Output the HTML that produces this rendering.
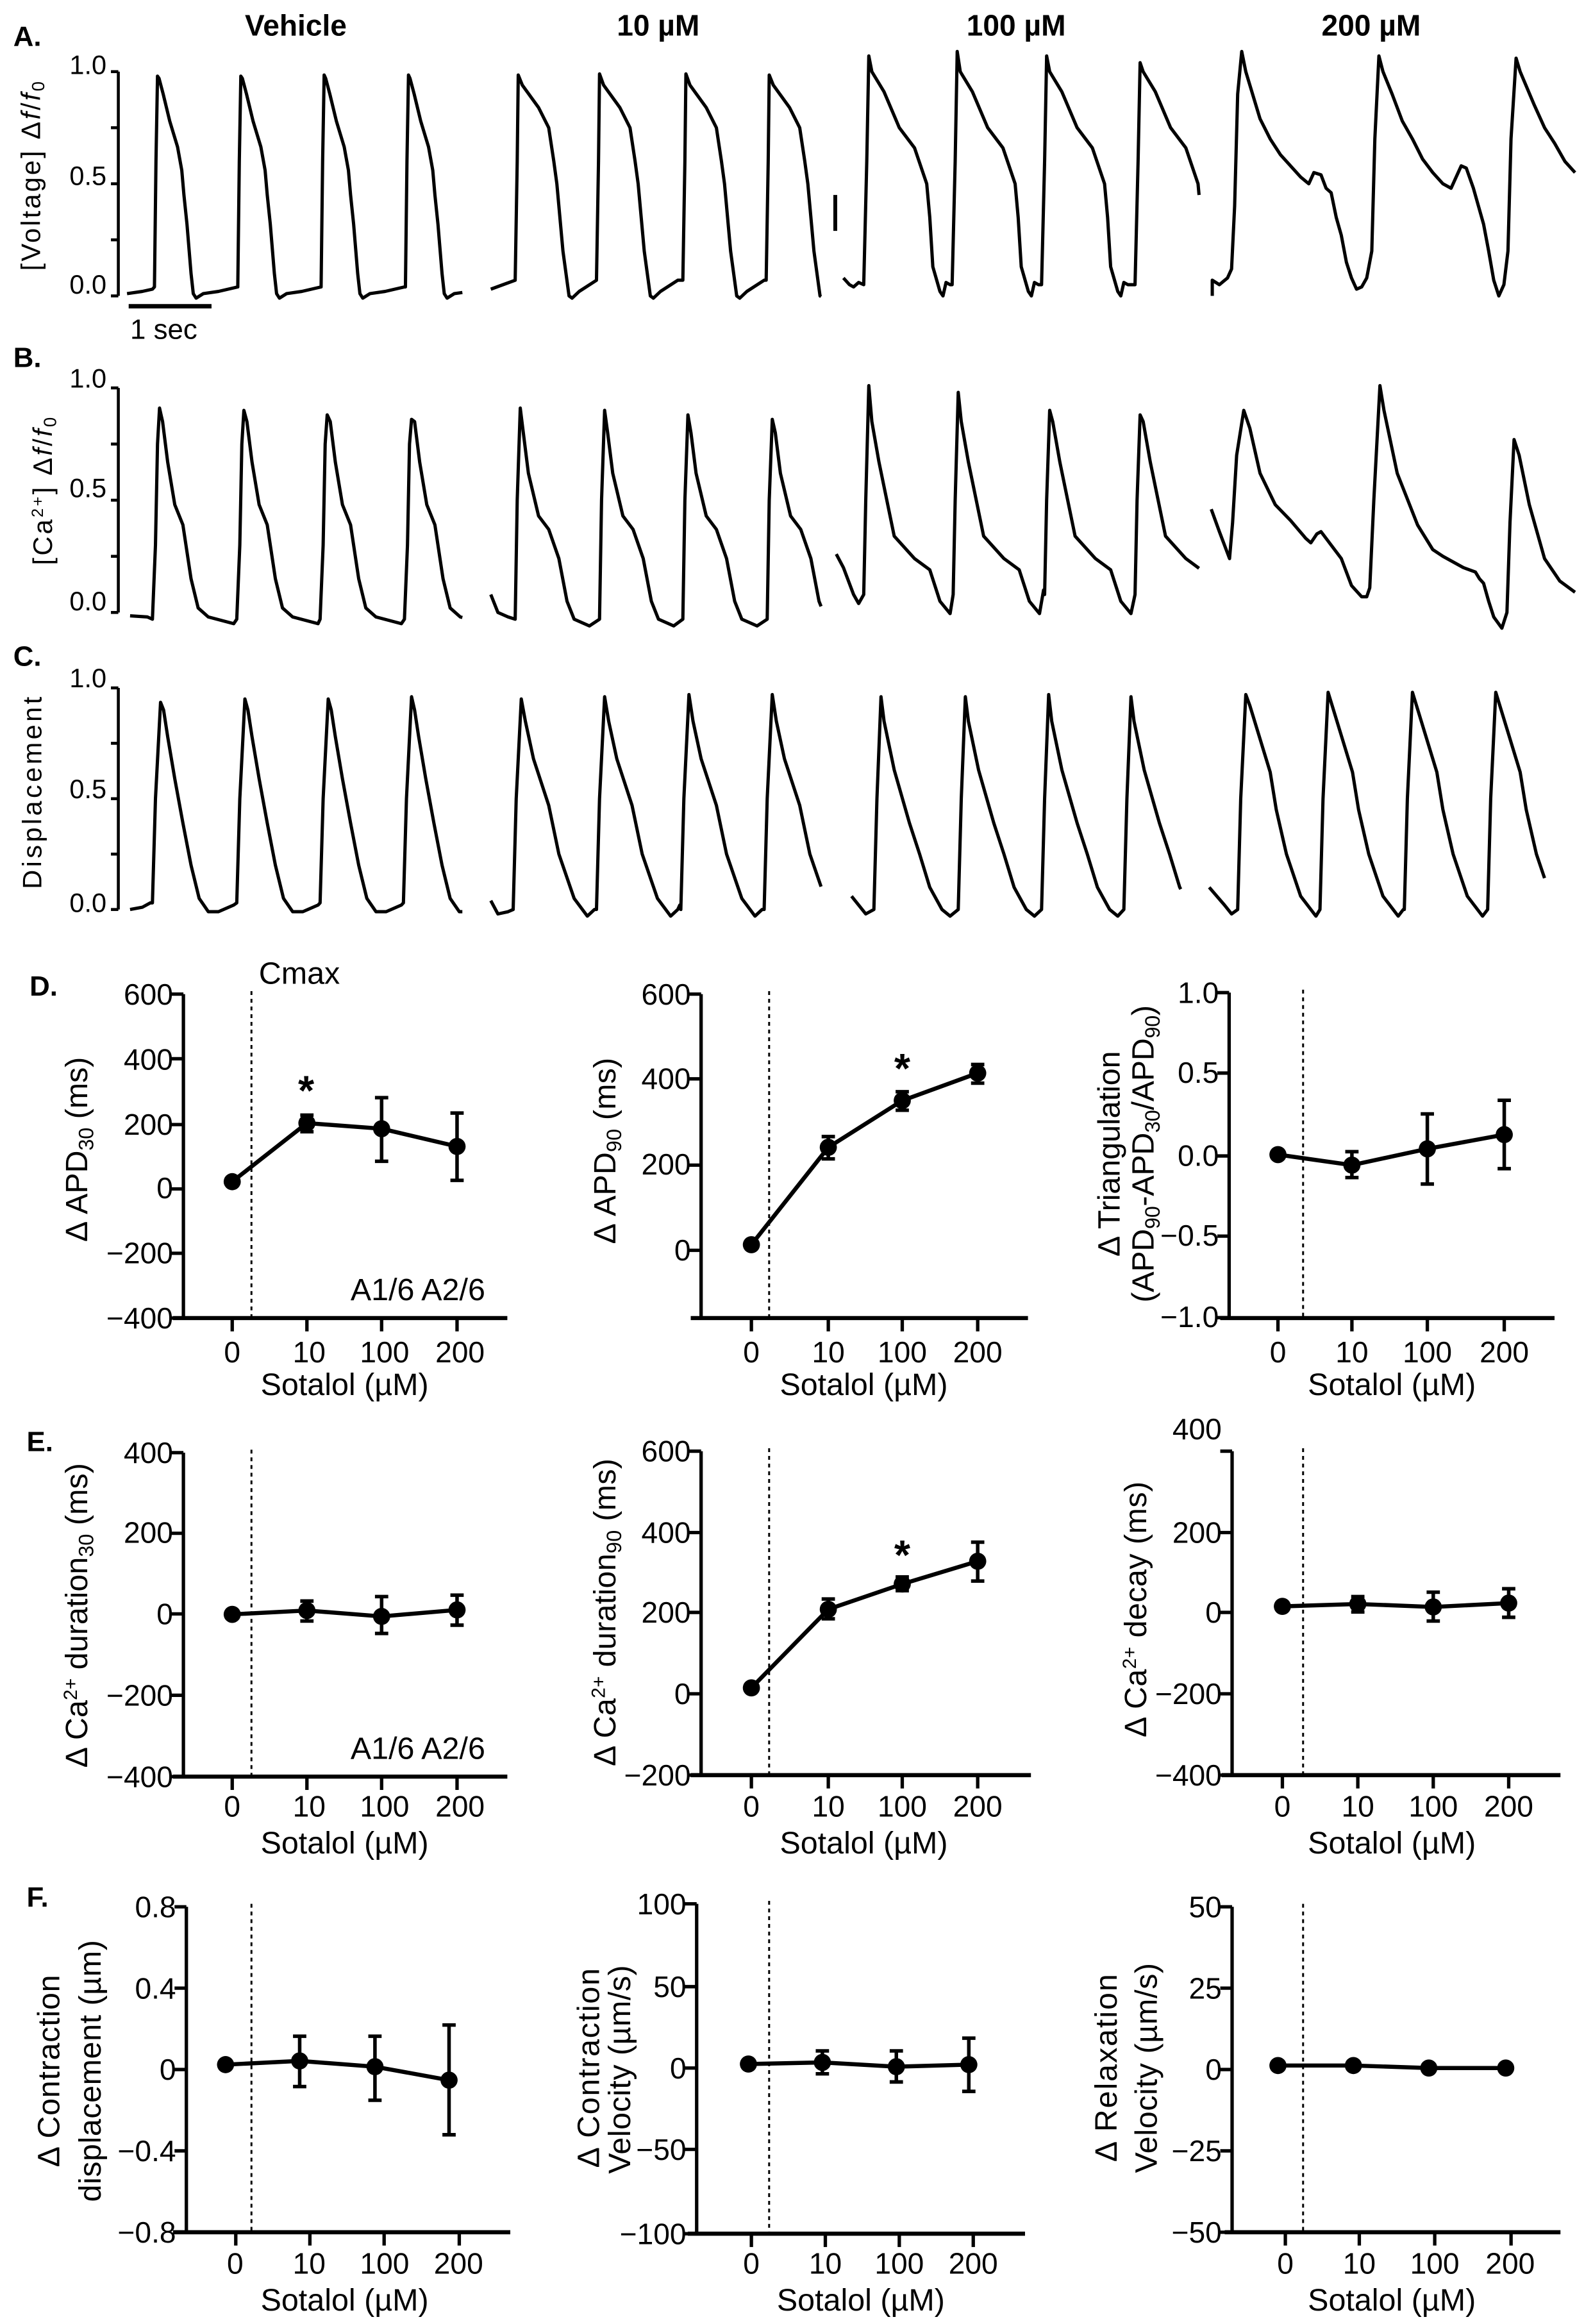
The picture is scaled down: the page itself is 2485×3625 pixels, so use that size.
<!DOCTYPE html>
<html><head><meta charset="utf-8"><style>
html,body{margin:0;padding:0;background:#fff;}
svg{display:block;}
text{font-family:"Liberation Sans",Arial,sans-serif;fill:#000;}
</style></head><body>
<svg id="s" xmlns="http://www.w3.org/2000/svg" width="2485" height="3625" viewBox="0 0 1077 1571">
<rect width="1077" height="1571" fill="#fff"/>
<g id="g"></g>
<!-- Panel labels -->
<g font-weight="bold" font-size="19">
<text x="9" y="31">A.</text>
<text x="9" y="248">B.</text>
<text x="9" y="450">C.</text>
<text x="20" y="673">D.</text>
<text x="18" y="981">E.</text>
<text x="18" y="1289">F.</text>
</g>
<g font-weight="bold" font-size="20" text-anchor="middle">
<text x="200" y="24">Vehicle</text>
<text x="445" y="24">10 µM</text>
<text x="687" y="24">100 µM</text>
<text x="927" y="24">200 µM</text>
</g>
<!-- trace axis labels -->
<g font-size="18" text-anchor="end">
<text x="72" y="50">1.0</text><text x="72" y="125">0.5</text><text x="72" y="198.5">0.0</text>
<text x="72" y="262">1.0</text><text x="72" y="336">0.5</text><text x="72" y="412.5">0.0</text>
<text x="72" y="464.5">1.0</text><text x="72" y="539.5">0.5</text><text x="72" y="616.5">0.0</text>
</g>
<g font-size="18" text-anchor="middle">
<text transform="translate(27,119) rotate(-90)" textLength="128" lengthAdjust="spacing">[Voltage] Δ<tspan font-style="italic">f</tspan>/<tspan font-style="italic">f</tspan><tspan font-size="12" dy="3">0</tspan></text>
<text transform="translate(35,332) rotate(-90)" textLength="100" lengthAdjust="spacing">[Ca<tspan font-size="11" dy="-6">2+</tspan><tspan dy="6">] Δ</tspan><tspan font-style="italic">f</tspan>/<tspan font-style="italic">f</tspan><tspan font-size="12" dy="3">0</tspan></text>
<text transform="translate(28,536) rotate(-90)" textLength="130" lengthAdjust="spacing">Displacement</text>
</g>
<text x="88" y="229" font-size="19">1 sec</text>

<!-- plot text -->
<g font-size="20" text-anchor="end">
<!-- D1 -->
<text x="117" y="679">600</text><text x="117" y="723">400</text><text x="117" y="767">200</text><text x="117" y="810">0</text><text x="117" y="854">−200</text><text x="117" y="898">−400</text>
<!-- D2 -->
<text x="467" y="679">600</text><text x="467" y="736">400</text><text x="467" y="794">200</text><text x="467" y="852">0</text>
<!-- D3 -->
<text x="824" y="678">1.0</text><text x="824" y="732">0.5</text><text x="824" y="788">0.0</text><text x="824" y="842">−0.5</text><text x="824" y="897">−1.0</text>
<!-- E1 -->
<text x="117" y="989">400</text><text x="117" y="1043">200</text><text x="117" y="1098">0</text><text x="117" y="1153">−200</text><text x="117" y="1208">−400</text>
<!-- E2 -->
<text x="467" y="988">600</text><text x="467" y="1043">400</text><text x="467" y="1097">200</text><text x="467" y="1152">0</text><text x="467" y="1207">−200</text>
<!-- E3 -->
<text x="826" y="973">400</text><text x="826" y="1043">200</text><text x="826" y="1097">0</text><text x="826" y="1152">−200</text><text x="826" y="1207">−400</text>
<!-- F1 -->
<text x="119" y="1296">0.8</text><text x="119" y="1351">0.4</text><text x="119" y="1406">0</text><text x="119" y="1461">−0.4</text><text x="119" y="1516">−0.8</text>
<!-- F2 -->
<text x="464" y="1294">100</text><text x="464" y="1350">50</text><text x="464" y="1405">0</text><text x="464" y="1460">−50</text><text x="464" y="1517">−100</text>
<!-- F3 -->
<text x="826" y="1296">50</text><text x="826" y="1351">25</text><text x="826" y="1406">0</text><text x="826" y="1461">−25</text><text x="826" y="1516">−50</text>
</g>
<g font-size="20" text-anchor="middle">
<text x="157" y="921">0</text><text x="209" y="921">10</text><text x="260" y="921">100</text><text x="311" y="921">200</text>
<text x="508" y="921">0</text><text x="560" y="921">10</text><text x="610" y="921">100</text><text x="661" y="921">200</text>
<text x="864" y="921">0</text><text x="914" y="921">10</text><text x="965" y="921">100</text><text x="1017" y="921">200</text>
<text x="157" y="1228">0</text><text x="209" y="1228">10</text><text x="260" y="1228">100</text><text x="311" y="1228">200</text>
<text x="508" y="1228">0</text><text x="560" y="1228">10</text><text x="610" y="1228">100</text><text x="661" y="1228">200</text>
<text x="867" y="1228">0</text><text x="918" y="1228">10</text><text x="969" y="1228">100</text><text x="1020" y="1228">200</text>
<text x="159" y="1537">0</text><text x="209" y="1537">10</text><text x="260" y="1537">100</text><text x="310" y="1537">200</text>
<text x="508" y="1537">0</text><text x="558" y="1537">10</text><text x="608" y="1537">100</text><text x="658" y="1537">200</text>
<text x="869" y="1537">0</text><text x="919" y="1537">10</text><text x="970" y="1537">100</text><text x="1021" y="1537">200</text>
</g>
<g font-size="21" text-anchor="middle">
<text x="233" y="943">Sotalol (µM)</text><text x="584" y="943">Sotalol (µM)</text><text x="941" y="943">Sotalol (µM)</text>
<text x="233" y="1253">Sotalol (µM)</text><text x="584" y="1253">Sotalol (µM)</text><text x="941" y="1253">Sotalol (µM)</text>
<text x="233" y="1562">Sotalol (µM)</text><text x="582" y="1562">Sotalol (µM)</text><text x="941" y="1562">Sotalol (µM)</text>
</g>
<g font-size="21" text-anchor="middle">
<text transform="translate(59,777) rotate(-90)" textLength="125" lengthAdjust="spacing">Δ APD<tspan font-size="14" dy="4">30</tspan><tspan dy="-4"> (ms)</tspan></text>
<text transform="translate(416,778) rotate(-90)" textLength="126" lengthAdjust="spacing">Δ APD<tspan font-size="14" dy="4">90</tspan><tspan dy="-4"> (ms)</tspan></text>
<text transform="translate(757,780) rotate(-90)" textLength="139" lengthAdjust="spacing">Δ Triangulation</text>
<text transform="translate(780,780) rotate(-90)" textLength="201" lengthAdjust="spacing">(APD<tspan font-size="14" dy="4">90</tspan><tspan dy="-4">-APD</tspan><tspan font-size="14" dy="4">30</tspan><tspan dy="-4">/APD</tspan><tspan font-size="14" dy="4">90</tspan><tspan dy="-4">)</tspan></text>
<text transform="translate(59,1092) rotate(-90)" textLength="206" lengthAdjust="spacing">Δ Ca<tspan font-size="13" dy="-7">2+</tspan><tspan dy="7"> duration</tspan><tspan font-size="14" dy="4">30</tspan><tspan dy="-4"> (ms)</tspan></text>
<text transform="translate(416,1090) rotate(-90)" textLength="208" lengthAdjust="spacing">Δ Ca<tspan font-size="13" dy="-7">2+</tspan><tspan dy="7"> duration</tspan><tspan font-size="14" dy="4">90</tspan><tspan dy="-4"> (ms)</tspan></text>
<text transform="translate(775,1088) rotate(-90)" textLength="173" lengthAdjust="spacing">Δ Ca<tspan font-size="13" dy="-7">2+</tspan><tspan dy="7"> decay (ms)</tspan></text>
<text transform="translate(40,1400) rotate(-90)" textLength="130" lengthAdjust="spacing">Δ Contraction</text>
<text transform="translate(68,1400) rotate(-90)" textLength="177" lengthAdjust="spacing">displacement (µm)</text>
<text transform="translate(405,1398) rotate(-90)" textLength="135" lengthAdjust="spacing">Δ Contraction</text>
<text transform="translate(426,1399) rotate(-90)" textLength="141" lengthAdjust="spacing">Velocity (µm/s)</text>
<text transform="translate(755,1398) rotate(-90)" textLength="127" lengthAdjust="spacing">Δ Relaxation</text>
<text transform="translate(782,1398) rotate(-90)" textLength="142" lengthAdjust="spacing">Velocity (µm/s)</text>
</g>
<g font-size="21">
<text x="175" y="665">Cmax</text>
<text x="237" y="879">A1/6 A2/6</text>
<text x="237" y="1189">A1/6 A2/6</text>
</g>
<g font-size="28" text-anchor="middle" font-weight="bold">
<text x="207" y="747">*</text>
<text x="610" y="732">*</text>
<text x="610" y="1061">*</text>
</g>
</svg>
<script>
(function(){
var NS="http://www.w3.org/2000/svg", G=document.getElementById("g");
function el(t,a){var e=document.createElementNS(NS,t);for(var k in a)e.setAttribute(k,a[k]);G.appendChild(e);return e;}
var rows={A:[200,48.4],B:[414,262.2],C:[614.8,465]};
function build(start,peaks,pks,tpl,endX){
  var pts=start.slice();
  for(var i=0;i<peaks.length;i++){
    var beat=tpl.map(function(q){return [peaks[i]+q[0], q[1]===null?pks[i]:q[1]];});
    while(pts.length&&pts[pts.length-1][0]>=beat[0][0])pts.pop();
    pts=pts.concat(beat);
  }
  var out=[];
  for(var j=0;j<pts.length;j++){
    if(pts[j][0]<=endX)out.push(pts[j]);
    else{var a=pts[j-1],b=pts[j];var t=(endX-a[0])/(b[0]-a[0]);out.push([endX,a[1]+t*(b[1]-a[1])]);break;}
  }
  return out;
}
function draw(pts,row){
  var r=rows[row],d="";
  pts.forEach(function(p,i){var x=p[0]*0.687,y=r[0]-p[1]*(r[0]-r[1]);d+=(i?"L":"M")+x.toFixed(2)+","+y.toFixed(2);});
  el("path",{d:d,fill:"none",stroke:"#000","stroke-width":"2.2","stroke-linejoin":"round"});
}
// Row A
var tA1=[[-3,0.04],[-1.5,0.6],[0,null],[1.5,0.97],[5.6,0.9],[12,0.78],[19.7,0.665],[23.9,0.56],[26,0.45],[29,0.32],[33,0.1],[35.2,0.01],[38,-0.01],[45,0.01],[60,0.02],[79,0.04]];
draw(build([[125,0.01],[140,0.02],[150,0.03]],[155,237,319,402],[0.98,0.98,0.985,0.985],tA1,455),"A");
var tA2=[[-3,0.07],[-1,0.6],[0,null],[4,0.94],[20,0.84],[30,0.75],[35,0.6],[38,0.5],[44,0.2],[50,0.0],[53,-0.01],[60,0.02],[77,0.07]];
draw(build([[483,0.03],[495,0.05]],[510,590,675,757],[0.985,0.99,0.99,0.985],tA2,808),"A");
el("path",{d:"M"+(822*0.687)+","+(200-0.45*151.6)+"L"+(822*0.687)+","+(200-0.29*151.6),stroke:"#000","stroke-width":"2.6"});
var tA3=[[-5,0.05],[-2,0.6],[0,null],[3,1.0],[15,0.91],[30,0.75],[45,0.66],[57,0.5],[60,0.35],[63,0.13],[70,0.02],[73,0.0],[76,0.06],[80,0.05]];
draw(build([[830,0.08],[836,0.05],[840,0.04],[845,0.06]],[855,942,1030,1122],[1.07,1.09,1.07,1.04],tA3,1180),"A");
draw([[1193,0.0],[1193,0.07],[1200,0.05],[1208,0.08],[1212,0.12],[1215,0.4],[1218,0.9],[1222,1.09],[1226,1.0],[1240,0.79],[1250,0.7],[1260,0.63],[1270,0.58],[1280,0.53],[1288,0.5],[1293,0.55],[1300,0.54],[1305,0.48],[1310,0.46],[1315,0.35],[1320,0.27],[1325,0.15],[1330,0.08],[1335,0.03],[1340,0.04],[1345,0.08],[1350,0.2],[1353,0.7],[1357,1.07],[1361,1.0],[1370,0.9],[1380,0.78],[1390,0.70],[1400,0.61],[1410,0.55],[1420,0.5],[1428,0.48],[1432,0.52],[1438,0.58],[1443,0.57],[1450,0.48],[1455,0.4],[1460,0.32],[1465,0.2],[1470,0.07],[1475,0.0],[1480,0.05],[1484,0.2],[1487,0.7],[1492,1.06],[1496,1.0],[1510,0.85],[1520,0.75],[1530,0.68],[1540,0.6],[1550,0.55]],"A");
// Row B
var tB1=[[-7,-0.03],[-4,0.3],[-2,0.75],[0,null],[3,0.85],[8,0.67],[15,0.48],[23,0.39],[31,0.15],[38,0.02],[48,-0.02],[73,-0.05]];
draw(build([[128,-0.015],[145,-0.02]],[157,240,322,405],[0.91,0.9,0.88,0.86],tB1,455),"B");
var tB2=[[-5,-0.03],[-3,0.5],[0,null],[3,0.8],[8,0.62],[18,0.43],[28,0.37],[38,0.24],[46,0.05],[53,-0.03],[68,-0.06],[78,-0.05]];
draw(build([[483,0.08],[490,0.0],[500,-0.02]],[512,595,677,760],[0.91,0.9,0.88,0.86],tB2,808),"B");
var tB3=[[-5,0.08],[-3,0.5],[0,null],[3,0.85],[10,0.67],[25,0.34],[45,0.24],[60,0.19],[70,0.05],[80,-0.005],[84,0.1]];
draw(build([[823,0.26],[830,0.2],[840,0.08],[845,0.04]],[855,943,1033,1122],[1.01,0.98,0.9,0.88],tB3,1180),"B");
draw([[1192,0.46],[1200,0.36],[1205,0.3],[1210,0.24],[1213,0.4],[1217,0.7],[1224,0.9],[1230,0.82],[1240,0.62],[1255,0.48],[1270,0.41],[1285,0.33],[1290,0.31],[1296,0.35],[1300,0.36],[1305,0.33],[1310,0.3],[1320,0.24],[1330,0.12],[1340,0.07],[1345,0.07],[1348,0.11],[1352,0.5],[1358,1.01],[1362,0.9],[1375,0.62],[1395,0.39],[1410,0.28],[1420,0.25],[1440,0.2],[1452,0.18],[1456,0.15],[1460,0.13],[1465,0.05],[1470,-0.02],[1478,-0.07],[1483,0.0],[1486,0.4],[1490,0.77],[1495,0.7],[1505,0.48],[1520,0.24],[1535,0.14],[1550,0.09]],"B");
// Row C
var tC1=[[-8,0.03],[-5,0.5],[0,null],[3,0.9],[7,0.78],[14,0.59],[22,0.39],[30,0.2],[38,0.05],[47,-0.01],[57,-0.01],[72,0.02],[75,0.03]];
draw(build([[128,0.0],[140,0.01],[148,0.03]],[158,241,323,405],[0.935,0.95,0.95,0.96],tC1,455),"C");
var tC2=[[-8,0.0],[-5,0.5],[0,null],[4,0.85],[12,0.68],[27,0.47],[37,0.25],[52,0.05],[65,-0.03],[72,0.0],[74,0.02]];
draw(build([[483,0.04],[490,-0.02],[500,-0.01]],[513,595,678,760],[0.95,0.96,0.97,0.97],tC2,808),"C");
var tC3=[[-7,0.0],[-4,0.5],[0,null],[3,0.85],[13,0.63],[28,0.39],[38,0.25],[48,0.1],[60,0.0],[68,-0.03],[76,0.0]];
draw(build([[838,0.06],[852,-0.02]],[867,950,1032,1113],[0.96,0.96,0.97,0.96],tC3,1162),"C");
var tC4=[[-8,0.0],[-5,0.5],[0,null],[4,0.92],[14,0.77],[24,0.62],[30,0.45],[40,0.25],[54,0.06],[69,-0.03],[74,0.0]];
draw(build([[1190,0.1],[1205,0.02],[1212,-0.02]],[1226,1307,1390,1472],[0.97,0.98,0.98,0.98],tC4,1520),"C");
// trace axes
function taxis(y0,y1){el("line",{x1:80,y1:y1,x2:80,y2:y0,stroke:"#000","stroke-width":"2"});
  for(var k=0;k<=4;k++){var y=y1+(y0-y1)*k/4;el("line",{x1:75,y1:y,x2:80,y2:y,stroke:"#000","stroke-width":"2"});}}
taxis(200,48.4);taxis(414,262.2);taxis(614.8,465);
el("line",{x1:87,y1:207,x2:143,y2:207,stroke:"#000","stroke-width":"3"});
// plots
function plot(P){
  el("line",{x1:P.ax,y1:P.top,x2:P.ax,y2:P.bot,stroke:"#000","stroke-width":"2.3"});
  P.yt.forEach(function(y){el("line",{x1:P.ax-8,y1:y,x2:P.ax,y2:y,stroke:"#000","stroke-width":"2.3"});});
  el("line",{x1:P.xl,y1:P.bot,x2:P.xr,y2:P.bot,stroke:"#000","stroke-width":"2.8"});
  (P.tx||P.xs).forEach(function(x){el("line",{x1:x,y1:P.bot,x2:x,y2:P.bot+9,stroke:"#000","stroke-width":"2.3"});});
  el("line",{x1:P.dash,y1:P.top-2,x2:P.dash,y2:P.bot,stroke:"#000","stroke-width":"1.3","stroke-dasharray":"2.6,2.6"});
  var d="";P.pts.forEach(function(p,i){d+=(i?"L":"M")+P.xs[i]+","+p[0];});
  el("path",{d:d,fill:"none",stroke:"#000","stroke-width":"2.8"});
  P.pts.forEach(function(p,i){var x=P.xs[i];
    if(p.length>1){el("path",{d:"M"+x+","+p[1]+"L"+x+","+p[2]+"M"+(x-4.5)+","+p[1]+"L"+(x+4.5)+","+p[1]+"M"+(x-4.5)+","+p[2]+"L"+(x+4.5)+","+p[2],stroke:"#000","stroke-width":"2.4",fill:"none"});}
    el("circle",{cx:x,cy:p[0],r:5.8,fill:"#000"});});
}
var X1=[157,207.5,258,309],X2=[508,560,610,661];
plot({ax:124,top:672,bot:891,xl:117,xr:343,xs:X1,dash:170,yt:[672,715.7,760.2,803.7,847.2,891],pts:[[798.8],[759.2,753.8,765],[763,742,785],[775,752.4,797.9]]});
plot({ax:474,top:672,bot:891,xl:467,xr:695,xs:X2,dash:520,yt:[672,729.3,787.6,845.2],pts:[[841.4],[775.6,768.3,783.4],[744,738,750.5],[725.4,719.6,732.2]]});
plot({ax:831,top:671,bot:891,xl:825,xr:1051,xs:[864,914,965,1017],dash:881,yt:[671,725.4,781.4,835.6,890.7],pts:[[780.5],[787.6,778.5,796],[776.6,753,800.4],[767,743.8,790]]});
plot({ax:124,top:982,bot:1201,xl:117,xr:343,xs:X1,dash:170,yt:[982,1036.5,1091,1146,1201],pts:[[1091.3],[1088.7,1082.3,1095.8],[1092.7,1079.3,1104.2],[1088.3,1078.3,1098.6]]});
plot({ax:474,top:981,bot:1200,xl:467,xr:697,xs:X2,dash:520,yt:[981,1036,1090,1145,1200],pts:[[1141],[1087.9,1080.9,1094.3],[1070.8,1066,1075.3],[1055.4,1042.5,1068.8]]});
plot({ax:833,top:981,bot:1200,xl:826,xr:1055,xs:[867,918,969,1020],dash:881,yt:[981,1036,1090,1145,1200],pts:[[1085.9],[1084.3,1079.3,1089.7],[1086.3,1076.3,1095.8],[1083.7,1074,1093.3]]});
plot({ax:126,top:1289,bot:1509,xl:117,xr:345,xs:[152.5,202.6,253.5,303.6],tx:[159.4,209.5,259.7,310.5],dash:170,yt:[1289,1344,1399,1454,1509],pts:[[1395.7],[1393.2,1376.5,1410.5],[1397.1,1376.5,1419.8],[1406.2,1368.9,1443.1]]});
plot({ax:471,top:1287,bot:1510,xl:465,xr:693,xs:[506,556,606,655],tx:[508,558,608,658],dash:520,yt:[1287,1343,1398,1453,1510],pts:[[1395.3],[1394.2,1386.4,1401.9],[1397.1,1386.4,1407.4],[1395.7,1377.8,1413.8]]});
plot({ax:833,top:1289,bot:1509,xl:828,xr:1055,xs:[864,915,966,1018],tx:[869,919,970,1021.6],dash:881,yt:[1289,1344,1399,1454,1509],pts:[[1396.3],[1396.3],[1398],[1398]]});
})();
</script>
</body></html>
